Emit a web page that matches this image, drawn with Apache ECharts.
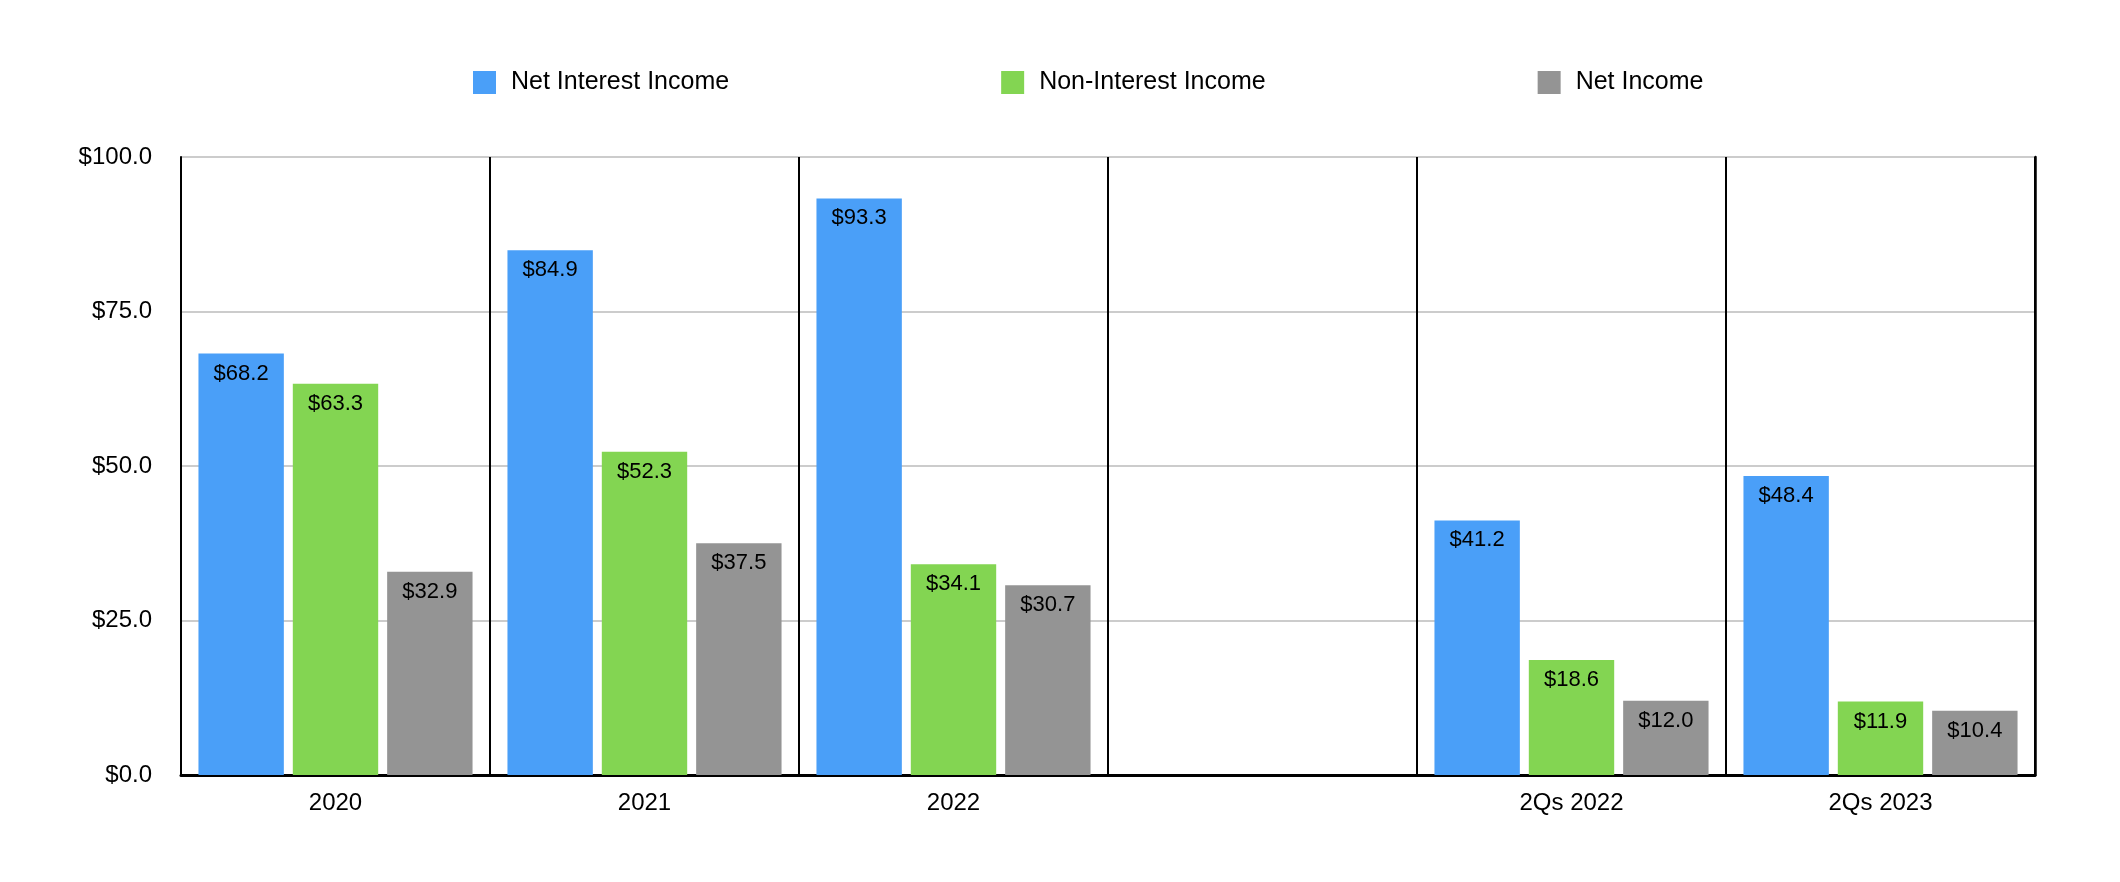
<!DOCTYPE html>
<html>
<head>
<meta charset="utf-8">
<title>Income chart</title>
<script src="https://cdn.jsdelivr.net/npm/echarts@6/dist/echarts.min.js"></script>
<style>
  html, body { margin: 0; padding: 0; background: #fff; }
  #chart { width: 2120px; height: 882px; }
</style>
</head>
<body>
<div id="chart"></div>
<script>
// values in $ millions
const categories = ['2020', '2021', '2022', '', '2Qs 2022', '2Qs 2023'];
const netInterestIncome = [68.2, 84.9, 93.3, null, 41.2, 48.4];
const nonInterestIncome = [63.3, 52.3, 34.1, null, 18.6, 11.9];
const netIncome = [32.9, 37.5, 30.7, null, 12.0, 10.4];
const seriesNames = ['Net Interest Income', 'Non-Interest Income', 'Net Income'];
const colors = ['#4a9ff8', '#83d552', '#949494'];

const font = "'Liberation Sans', Arial, Helvetica, sans-serif";
const money = (v) => '$' + Number(v).toFixed(1);

const myChart = echarts.init(document.getElementById('chart'));

function barSeries(name, data, color) {
  return {
    name: name,
    type: 'bar',
    data: data,
    barGap: '10.5%',
    barCategoryGap: '11.3%',
    itemStyle: { color: color },
    label: {
      show: true,
      position: 'insideTop',
      distance: 9,
      color: '#000',
      fontSize: 22,
      fontFamily: font,
      formatter: (p) => (p.value == null ? '' : money(p.value))
    }
  };
}

const option = {
  animation: false,
  backgroundColor: '#fff',
  textStyle: { fontFamily: font },
  legend: {
    left: 468,
    top: 65,
    itemWidth: 23,
    itemHeight: 23,
    itemGap: 272,
    icon: 'rect',
    textStyle: {
      color: '#000',
      fontSize: 25,
      fontFamily: font,
      padding: [0, 0, 0, 10]
    },
    data: seriesNames
  },
  grid: {
    left: 181,
    right: 85,
    top: 157,
    bottom: 107
  },
  xAxis: {
    type: 'category',
    data: categories,
    axisTick: { show: false },
    axisLine: { lineStyle: { color: '#000', width: 3 } },
    axisLabel: {
      color: '#000',
      fontSize: 24,
      fontFamily: font,
      margin: 16
    },
    splitLine: {
      show: true,
      interval: 0,
      lineStyle: { color: '#000', width: 2 }
    }
  },
  yAxis: [{
    type: 'value',
    min: 0,
    max: 100,
    interval: 25,
    axisLine: { show: true, lineStyle: { color: '#000', width: 2 } },
    axisTick: { show: false },
    axisLabel: {
      color: '#000',
      fontSize: 24,
      fontFamily: font,
      margin: 29,
      formatter: money
    },
    splitLine: { lineStyle: { color: '#bbbbbb', width: 1.5 } }
  }, {
    type: 'value',
    position: 'right',
    min: 0,
    max: 100,
    interval: 25,
    axisLine: { show: true, lineStyle: { color: '#000', width: 2.5 } },
    axisTick: { show: false },
    axisLabel: { show: false },
    splitLine: { show: false }
  }],
  series: [
    barSeries(seriesNames[0], netInterestIncome, colors[0]),
    barSeries(seriesNames[1], nonInterestIncome, colors[1]),
    barSeries(seriesNames[2], netIncome, colors[2])
  ]
};

if (option && myChart) myChart.setOption(option);
</script>
</body>
</html>
